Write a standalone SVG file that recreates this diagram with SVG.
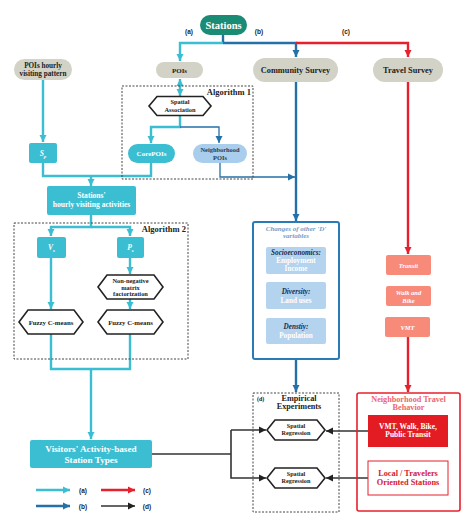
<svg xmlns="http://www.w3.org/2000/svg" width="474" height="530" viewBox="0 0 474 530">
<style>
text{font-family:"Liberation Serif","DejaVu Serif",serif;font-weight:bold;text-anchor:middle}
.pill{fill:#d2d2c6}
.teal{fill:#3bbdd2}
.la{fill:none;stroke:#3bbdd2;stroke-width:2.4}
.lb{fill:none;stroke:#2470a8;stroke-width:2.4}
.lbt{fill:none;stroke:#2470a8;stroke-width:1.3}
.lc{fill:none;stroke:#e6202c;stroke-width:2.4}
.ld{fill:none;stroke:#333;stroke-width:1.6}
.hex{fill:#fff;stroke:#222;stroke-width:1.6}
.dash{fill:none;stroke:#444;stroke-width:1;stroke-dasharray:2,1.5}
.dk{fill:#222}
.w{fill:#fff}
.lbl{font-size:6.5px;fill:#222;font-family:"Liberation Sans",Arial,sans-serif}
</style>
<defs>
<marker id="ma" markerUnits="userSpaceOnUse" markerWidth="8" markerHeight="8" refX="7" refY="4" orient="auto"><path d="M0,0.5 L7,4 L0,7.5 z" fill="#3bbdd2"/></marker>
<marker id="mas" markerUnits="userSpaceOnUse" markerWidth="8" markerHeight="8" refX="7" refY="4" orient="auto-start-reverse"><path d="M0,0.5 L7,4 L0,7.5 z" fill="#3bbdd2"/></marker>
<marker id="mb" markerUnits="userSpaceOnUse" markerWidth="8" markerHeight="8" refX="7" refY="4" orient="auto"><path d="M0,0.5 L7,4 L0,7.5 z" fill="#2470a8"/></marker>
<marker id="mc" markerUnits="userSpaceOnUse" markerWidth="8" markerHeight="8" refX="7" refY="4" orient="auto"><path d="M0,0.5 L7,4 L0,7.5 z" fill="#e6202c"/></marker>
<marker id="md" markerUnits="userSpaceOnUse" markerWidth="8" markerHeight="8" refX="7" refY="4" orient="auto"><path d="M0,0.5 L7,4 L0,7.5 z" fill="#222"/></marker>
</defs>
<rect width="474" height="530" fill="#fff"/>

<g id="connectors">
<path class="lb" d="M223,35 V43"/>
<path class="la" d="M223,43 H180 V61" marker-end="url(#ma)"/>
<path class="lb" d="M223,43 H296 V57" marker-end="url(#mb)"/>
<path class="lc" d="M296,43 H408 V57" marker-end="url(#mc)"/>
<path class="la" d="M180,79 V96" marker-start="url(#mas)" marker-end="url(#ma)"/>
<path class="la" d="M180,116 V127 H151 V143" marker-end="url(#ma)"/>
<path class="lbt" d="M180,127 H219 V143" marker-end="url(#mb)"/>
<path class="la" d="M43,80 V142" marker-end="url(#ma)"/>
<path class="la" d="M43,163 V176 H151 V163"/>
<path class="la" d="M91,176 V186" marker-end="url(#ma)"/>
<path class="lbt" d="M220,163 V177 H295" marker-end="url(#mb)"/>
<path class="la" d="M91,215 V227 H51 V236" marker-end="url(#ma)"/>
<path class="la" d="M91,227 H130 V236" marker-end="url(#ma)"/>
<path class="la" d="M51,258 V309" marker-end="url(#ma)"/>
<path class="la" d="M130,258 V274" marker-end="url(#ma)"/>
<path class="la" d="M130,299 V309" marker-end="url(#ma)"/>
<path class="la" d="M51,334 V369 H130 V334"/>
<path class="la" d="M91,369 V439" marker-end="url(#ma)"/>
<path class="lb" d="M296,82 V221" marker-end="url(#mb)"/>
<path class="lb" d="M296,359 V392" marker-end="url(#mb)"/>
<path class="lc" d="M408,82 V254" marker-end="url(#mc)"/>
<path class="lc" d="M408,337 V392" marker-end="url(#mc)"/>
<path class="ld" d="M152,454 H231"/>
<path class="ld" d="M231,430 H266" marker-end="url(#md)"/>
<path class="ld" d="M231,430 V478 H266" marker-end="url(#md)"/>
<path class="ld" d="M368,431 H326" marker-end="url(#md)"/>
<path class="ld" d="M368,478 H326" marker-end="url(#md)"/>
</g>

<g id="stations">
<rect x="200" y="15" width="47" height="20" rx="10" fill="#1a8c76"/>
<text x="223.5" y="28.5" font-size="10.5" class="w">Stations</text>
</g>
<g id="edge-labels">
<text x="189" y="34" class="lbl">(a)</text>
<text x="259" y="34" class="lbl">(b)</text>
<text x="346" y="34" class="lbl">(c)</text>
</g>

<g id="pois-hourly">
<rect class="pill" x="14" y="59" width="58" height="21" rx="10.5"/>
<text x="43" y="68" font-size="7.2" class="dk">POIs  hourly</text>
<text x="43" y="76" font-size="7.2" class="dk">visiting pattern</text>
</g>
<g id="pois">
<rect class="pill" x="156" y="62" width="47" height="16" rx="8"/>
<text x="179.5" y="72.5" font-size="7" class="dk">POIs</text>
</g>
<g id="community-survey">
<rect class="pill" x="253" y="58" width="85" height="24" rx="12"/>
<text x="295.5" y="72.5" font-size="8.3" class="dk">Community Survey</text>
</g>
<g id="travel-survey">
<rect class="pill" x="373" y="58" width="70" height="24" rx="12"/>
<text x="408" y="72.5" font-size="8.3" class="dk">Travel Survey</text>
</g>

<g id="algorithm1">
<rect class="dash" x="122" y="86" width="131" height="93"/>
<text x="251" y="95" font-size="8.5" class="dk" style="text-anchor:end">Algorithm 1</text>
</g>
<g id="spatial-association">
<path class="hex" d="M149,106 L157,96.5 H203 L211,106 L203,115.5 H157 z"/>
<text x="180" y="104" font-size="6.4" class="dk">Spatial</text>
<text x="180" y="111.5" font-size="6.4" class="dk">Association</text>
</g>
<g id="corepois">
<rect x="128" y="144" width="47" height="19" rx="9.5" class="teal"/>
<text x="151.5" y="156" font-size="7" class="w">CorePOIs</text>
</g>
<g id="neighborhood-pois">
<rect x="193" y="144" width="54" height="19" rx="9.5" fill="#a9cdec"/>
<text x="220" y="152" font-size="6.4" fill="#2a3b55">Neighborhood</text>
<text x="220" y="159.5" font-size="6.4" fill="#2a3b55">POIs</text>
</g>
<g id="sp">
<rect x="29" y="143" width="28" height="20" rx="2" class="teal"/>
<text x="43" y="156" font-size="7.5" class="w" font-style="italic">S<tspan font-size="5" dy="1.5">p</tspan></text>
</g>

<g id="stations-hourly">
<rect x="47" y="186" width="89" height="29" rx="2" class="teal"/>
<text x="91.5" y="198" font-size="7.6" class="w">Stations'</text>
<text x="91.5" y="207" font-size="7.6" class="w">hourly visiting activities</text>
</g>

<g id="algorithm2">
<rect class="dash" x="14" y="223" width="174" height="136"/>
<text x="186" y="232" font-size="8.5" class="dk" style="text-anchor:end">Algorithm 2</text>
</g>
<g id="vs">
<rect x="37" y="237" width="29" height="21" rx="2" class="teal"/>
<text x="51.5" y="250" font-size="7.5" class="w" font-style="italic">V<tspan font-size="5" dy="1.5">s</tspan></text>
</g>
<g id="ps">
<rect x="117" y="237" width="27" height="21" rx="2" class="teal"/>
<text x="130.5" y="250" font-size="7.5" class="w" font-style="italic">P<tspan font-size="5" dy="1.5">s</tspan></text>
</g>
<g id="nmf">
<path class="hex" d="M98,287 L107,275 H154 L163,287 L154,299 H107 z"/>
<text x="130.5" y="283" font-size="6.4" class="dk">Non-negative</text>
<text x="130.5" y="289.5" font-size="6.4" class="dk">matrix</text>
<text x="130.5" y="296" font-size="6.4" class="dk">factorization</text>
</g>
<g id="fuzzy1">
<path class="hex" d="M19,322 L28,310 H74 L83,322 L74,334 H28 z"/>
<text x="51" y="324.5" font-size="6.8" class="dk">Fuzzy C-means</text>
</g>
<g id="fuzzy2">
<path class="hex" d="M98,322 L107,310 H154 L163,322 L154,334 H107 z"/>
<text x="130.5" y="324.5" font-size="6.8" class="dk">Fuzzy C-means</text>
</g>

<g id="visitors-types">
<rect x="30" y="440" width="122" height="28" rx="2" class="teal"/>
<text x="91" y="452" font-size="9.2" class="w">Visitors' Activity-based</text>
<text x="91" y="462.5" font-size="9.2" class="w">Station Types</text>
</g>

<g id="changes-box">
<rect x="253" y="222" width="86" height="137" rx="2" fill="#fff" stroke="#2a7ab8" stroke-width="2"/>
<text x="296" y="230.5" font-size="7" fill="#6e9ecb" font-weight="normal" font-style="italic">Changes of other 'D'</text>
<text x="296" y="238" font-size="7" fill="#6e9ecb" font-weight="normal" font-style="italic">variables</text>
</g>
<g id="socioeconomics">
<rect x="266" y="247" width="60" height="27" rx="2" fill="#b3d3ee"/>
<text x="296" y="255" font-size="7.2" fill="#1b2a4a" font-style="italic">Socioeconomics:</text>
<text x="296" y="263" font-size="7.2" class="w" font-weight="normal">Employment</text>
<text x="296" y="271" font-size="7.2" class="w" font-weight="normal">Income</text>
</g>
<g id="diversity">
<rect x="266" y="282" width="60" height="27" rx="2" fill="#b3d3ee"/>
<text x="296" y="293.5" font-size="7.2" fill="#1b2a4a" font-style="italic">Diversity:</text>
<text x="296" y="302.5" font-size="7.2" class="w" font-weight="normal">Land uses</text>
</g>
<g id="density">
<rect x="266" y="318" width="60" height="26" rx="2" fill="#b3d3ee"/>
<text x="296" y="328.5" font-size="7.2" fill="#1b2a4a" font-style="italic">Denstiy:</text>
<text x="296" y="337.5" font-size="7.2" class="w" font-weight="normal">Population</text>
</g>

<g id="transit">
<rect x="386" y="255" width="45" height="20" rx="2" fill="#f88a7a"/>
<text x="408.5" y="267.5" font-size="6.5" class="w" font-style="italic" font-weight="normal">Transit</text>
</g>
<g id="walk-bike">
<rect x="386" y="286" width="45" height="20" rx="2" fill="#f88a7a"/>
<text x="408.5" y="295" font-size="6.5" class="w" font-style="italic" font-weight="normal">Walk and</text>
<text x="408.5" y="302.5" font-size="6.5" class="w" font-style="italic" font-weight="normal">Bike</text>
</g>
<g id="vmt">
<rect x="385" y="317" width="45" height="20" rx="2" fill="#f88a7a"/>
<text x="407.5" y="329.5" font-size="6.5" class="w" font-style="italic" font-weight="normal">VMT</text>
</g>

<g id="empirical">
<rect class="dash" x="253" y="393" width="86" height="119"/>
<text x="257" y="401" font-size="6" class="dk" style="text-anchor:start">(d)</text>
<text x="299" y="400.5" font-size="8.2" class="dk">Empirical</text>
<text x="299" y="409" font-size="8.2" class="dk">Experiments</text>
</g>
<g id="spatial-regression-1">
<path class="hex" d="M267,430 L275,420 H317 L325,430 L317,440 H275 z"/>
<text x="296" y="428" font-size="6.2" class="dk">Spatial</text>
<text x="296" y="434.8" font-size="6.2" class="dk">Regression</text>
</g>
<g id="spatial-regression-2">
<path class="hex" d="M267,478 L275,468 H317 L325,478 L317,488 H275 z"/>
<text x="296" y="476" font-size="6.2" class="dk">Spatial</text>
<text x="296" y="482.8" font-size="6.2" class="dk">Regression</text>
</g>

<g id="travel-behavior">
<rect x="357" y="393" width="103" height="118" rx="2" fill="none" stroke="#e6202c" stroke-width="1.6"/>
<text x="408.5" y="401.5" font-size="8.2" fill="#ee6672" font-weight="normal">Neighborhood Travel</text>
<text x="408.5" y="409.5" font-size="8.2" fill="#ee6672" font-weight="normal">Behavior</text>
</g>
<g id="vmt-walk-bike">
<rect x="368" y="415" width="80" height="32" fill="#e31b23"/>
<text x="408" y="429" font-size="7.5" class="w">VMT, Walk, Bike,</text>
<text x="408" y="437" font-size="7.5" class="w">Public Transit</text>
</g>
<g id="local-travelers">
<rect x="368" y="461" width="80" height="34" fill="#fff" stroke="#e6202c" stroke-width="1"/>
<text x="408" y="476" font-size="8.3" fill="#d42030">Local / Travelers</text>
<text x="408" y="485" font-size="8.3" fill="#d42030">Oriented Stations</text>
</g>

<g id="legend">
<path class="la" d="M36,490 H70" stroke-width="1.5" marker-end="url(#ma)"/>
<text x="83" y="492.5" class="lbl">(a)</text>
<path class="lc" d="M101,490 H135" stroke-width="1.5" marker-end="url(#mc)"/>
<text x="147" y="492.5" class="lbl">(c)</text>
<path class="lb" d="M36,506 H70" stroke-width="1.5" marker-end="url(#mb)"/>
<text x="83" y="508.5" class="lbl">(b)</text>
<path class="ld" d="M101,506 H135" stroke-width="1.5" marker-end="url(#md)"/>
<text x="147" y="508.5" class="lbl">(d)</text>
</g>
</svg>
